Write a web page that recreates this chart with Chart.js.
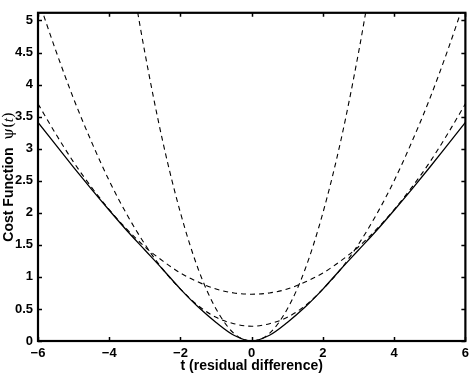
<!DOCTYPE html>
<html>
<head>
<meta charset="utf-8">
<script src="https://cdn.jsdelivr.net/npm/chart.js@4"></script>
<style>
  html, body { margin: 0; padding: 0; background: #fff; }
  #wrap { width: 474px; height: 376px; position: relative; }
</style>
</head>
<body>
<div id="wrap"><canvas id="costChart" width="474" height="376"></canvas></div>
<script>
// residual values t (x axis)
const tValues = [-6, -5.5, -5, -4.5, -4, -3.5, -3, -2.5, -2, -1.5, -1, -0.5, 0,
                 0.5, 1, 1.5, 2, 2.5, 3, 3.5, 4, 4.5, 5, 5.5, 6];

// solid cost function psi(t)
const solidCost = [3.41, 3.06, 2.71, 2.37, 2.04, 1.72, 1.42, 1.12, 0.81, 0.53, 0.29, 0.09, 0,
                   0.09, 0.29, 0.53, 0.81, 1.12, 1.42, 1.72, 2.04, 2.37, 2.71, 3.06, 3.41];

// dashed curve, narrow (min 0)
const dashNarrow = [null, null, null, null, null, 6.1, 4.5, 3.12, 2.0, 1.12, 0.5, 0.12, 0,
                    0.12, 0.5, 1.12, 2.0, 3.12, 4.5, 6.1, null, null, null, null, null];

// dashed curve, middle (min ~0.23)
const dashMiddle = [5.34, 4.53, 3.78, 3.11, 2.50, 1.97, 1.51, 1.12, 0.81, 0.55, 0.37, 0.27, 0.23,
                    0.27, 0.37, 0.55, 0.81, 1.12, 1.51, 1.97, 2.50, 3.11, 3.78, 4.53, 5.34];

// dashed curve, wide (min ~0.73)
const dashWide = [3.70, 3.23, 2.79, 2.40, 2.05, 1.74, 1.47, 1.25, 1.06, 0.92, 0.81, 0.75, 0.73,
                  0.75, 0.81, 0.92, 1.06, 1.25, 1.47, 1.74, 2.05, 2.40, 2.79, 3.23, 3.70];

const xTicks = [-6, -4, -2, 0, 2, 4, 6];
const yTicks = [0, 0.5, 1, 1.5, 2, 2.5, 3, 3.5, 4, 4.5, 5];

const toPoints = arr => tValues.map((t, i) => ({ x: t, y: arr[i] }));
const fmt = v => String(v).replace('-', '\u2212');

const lineStyle = (data, dashed) => ({
  data: toPoints(data),
  borderColor: '#000',
  borderWidth: dashed ? 1.1 : 1.3,
  borderDash: dashed ? [5, 4] : [],
  pointRadius: 0,
  fill: false,
  cubicInterpolationMode: 'monotone',
  spanGaps: false
});

// frame, inward ticks on all four sides, axis titles
const matlabFrame = {
  id: 'matlabFrame',
  afterDraw(chart) {
    const { ctx, chartArea: a, scales } = chart;
    ctx.save();
    ctx.strokeStyle = '#000';
    ctx.lineWidth = 1.5;
    ctx.beginPath();
    xTicks.forEach(v => {
      const px = Math.round(scales.x.getPixelForValue(v)) + 0.5;
      ctx.moveTo(px, a.bottom); ctx.lineTo(px, a.bottom - 4);
      ctx.moveTo(px, a.top); ctx.lineTo(px, a.top + 4);
    });
    yTicks.forEach(v => {
      const py = Math.round(scales.y.getPixelForValue(v)) + 0.5;
      ctx.moveTo(a.left, py); ctx.lineTo(a.left + 4, py);
      ctx.moveTo(a.right, py); ctx.lineTo(a.right - 4, py);
    });
    ctx.stroke();
    ctx.lineWidth = 2.2;
    ctx.strokeRect(a.left, a.top, a.right - a.left, a.bottom - a.top);

    // x title
    ctx.fillStyle = '#000';
    ctx.font = 'bold 14px "Liberation Sans", Arial, sans-serif';
    ctx.textAlign = 'center';
    ctx.textBaseline = 'alphabetic';
    ctx.fillText('t (residual difference)', (a.left + a.right) / 2, 370);

    // y title: "Cost Function  ψ(t)" with italic t
    const parts = [
      { s: 'Cost Function  ', f: 'bold 14px "Liberation Sans", Arial, sans-serif' },
      { s: '\u03c8(', f: '15px "DejaVu Serif", serif' },
      { s: 't', f: 'italic 15px "Liberation Serif", serif' },
      { s: ')', f: '15px "DejaVu Serif", serif' }
    ];
    let total = 0;
    parts.forEach(p => { ctx.font = p.f; p.w = ctx.measureText(p.s).width; total += p.w; });
    ctx.translate(13, (a.top + a.bottom) / 2);
    ctx.rotate(-Math.PI / 2);
    ctx.textAlign = 'left';
    let cx = -total / 2;
    parts.forEach(p => { ctx.font = p.f; ctx.fillText(p.s, cx, 0); cx += p.w; });
    ctx.restore();
  }
};

new Chart(document.getElementById('costChart'), {
  type: 'line',
  data: {
    datasets: [
      lineStyle(solidCost, false),
      lineStyle(dashNarrow, true),
      lineStyle(dashMiddle, true),
      lineStyle(dashWide, true)
    ]
  },
  options: {
    responsive: false,
    animation: false,
    layout: { padding: { top: 3, right: 4, left: 0, bottom: 0 } },
    plugins: { legend: { display: false }, tooltip: { enabled: false } },
    scales: {
      x: {
        type: 'linear',
        min: -6,
        max: 6,
        afterFit: s => { s.height = 35; },
        afterBuildTicks: s => { s.ticks = xTicks.map(v => ({ value: v })); },
        grid: { drawOnChartArea: false, drawTicks: false },
        border: { display: false },
        ticks: {
          color: '#000',
          padding: 5,
          maxRotation: 0,
          font: { family: '"Liberation Sans", Arial, sans-serif', size: 13, weight: 'bold' },
          callback: v => fmt(v)
        }
      },
      y: {
        type: 'linear',
        min: 0,
        max: 5.12,
        afterFit: s => { s.width = 38; },
        afterBuildTicks: s => { s.ticks = yTicks.map(v => ({ value: v })); },
        grid: { drawOnChartArea: false, drawTicks: false },
        border: { display: false },
        ticks: {
          color: '#000',
          padding: 5,
          font: { family: '"Liberation Sans", Arial, sans-serif', size: 13, weight: 'bold' },
          callback: v => fmt(v)
        }
      }
    }
  },
  plugins: [matlabFrame]
});
</script>
</body>
</html>
